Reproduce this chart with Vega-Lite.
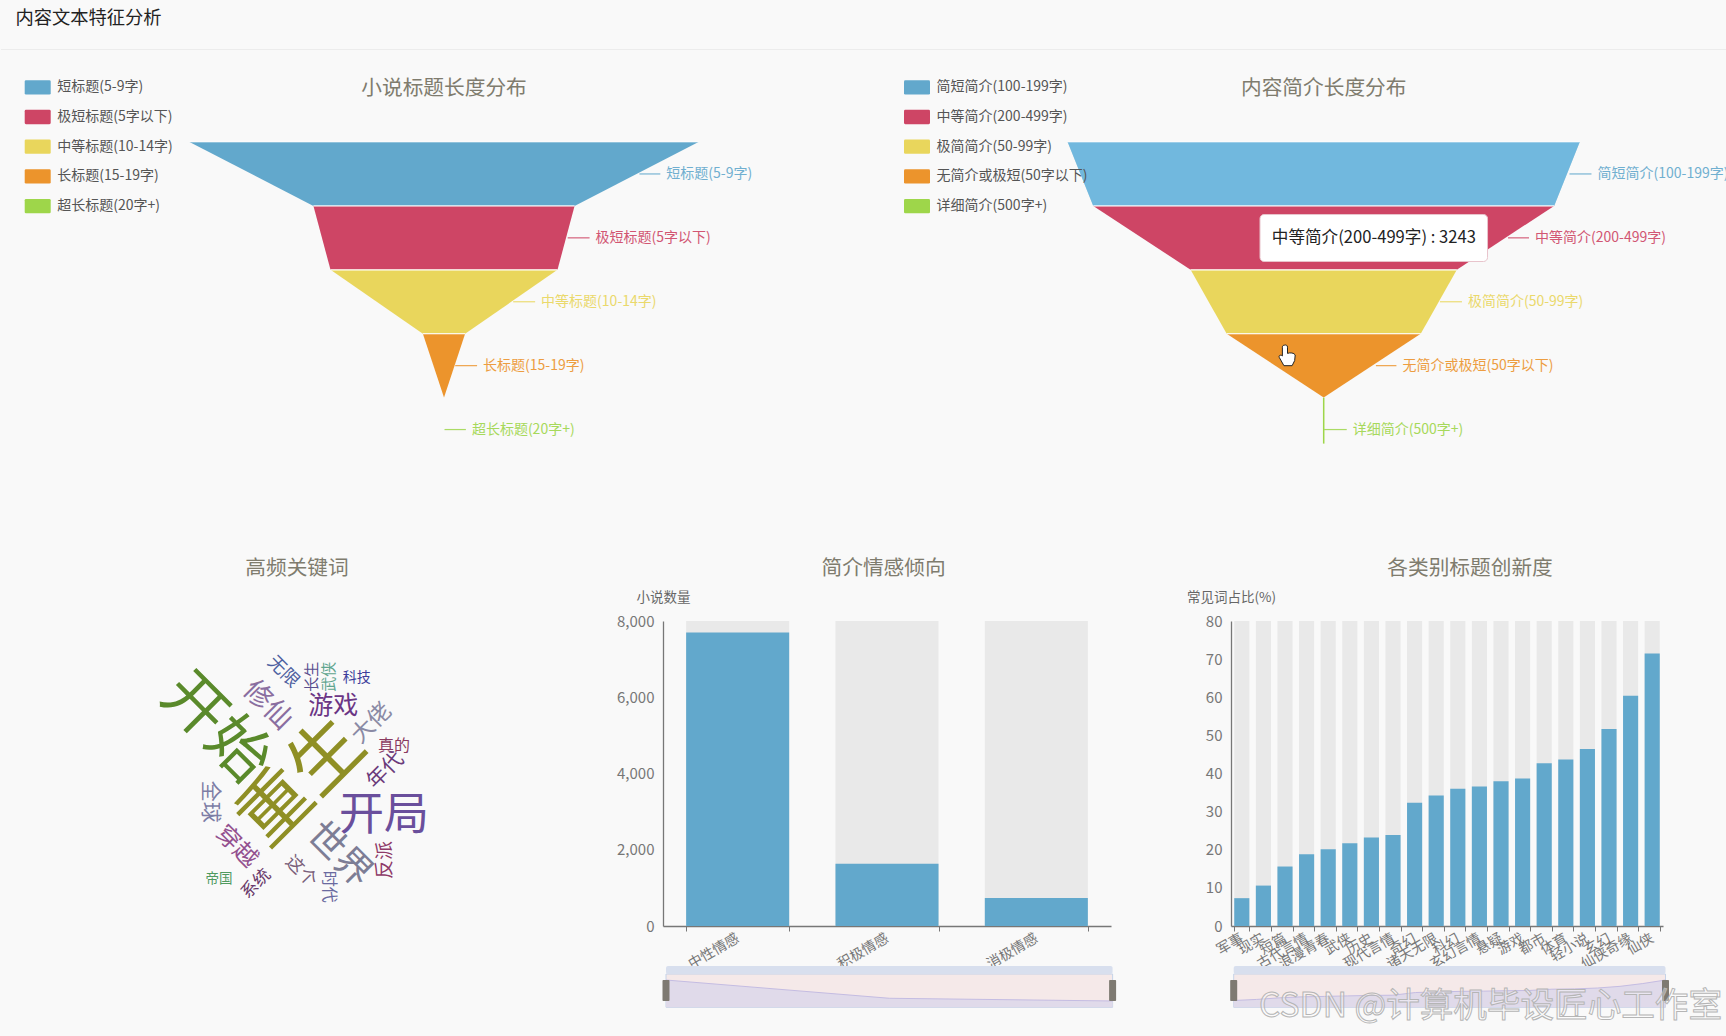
{
  "$schema": "https://vega.github.io/schema/vega-lite/v6.json",
  "background": "#f9f9f9",
  "padding": {"left": 0, "top": 0, "right": 0, "bottom": 29},
  "config": {
    "font": "Noto Sans CJK SC",
    "view": {"stroke": null},
    "title": {"fontSize": 20.7, "fontWeight": "normal", "color": "#7f7c6e", "anchor": "middle", "frame": "group"},
    "axis": {"labelColor": "#777777", "titleColor": "#666666", "grid": false, "domainColor": "#777777", "tickColor": "#777777", "titleFontWeight": "normal", "domainWidth": 1.3}
  },
  "datasets": {
    "titleFunnel": [
      {"name": "短标题(5-9字)", "level": 0, "left": -50, "right": 50},
      {"name": "短标题(5-9字)", "level": 1, "left": -25.65, "right": 25.65},
      {"name": "极短标题(5字以下)", "level": 1, "left": -25.65, "right": 25.65},
      {"name": "极短标题(5字以下)", "level": 2, "left": -22.3, "right": 22.3},
      {"name": "中等标题(10-14字)", "level": 2, "left": -22.3, "right": 22.3},
      {"name": "中等标题(10-14字)", "level": 3, "left": -4.15, "right": 4.15},
      {"name": "长标题(15-19字)", "level": 3, "left": -4.15, "right": 4.15},
      {"name": "长标题(15-19字)", "level": 4, "left": 0, "right": 0},
      {"name": "超长标题(20字+)", "level": 4, "left": 0, "right": 0},
      {"name": "超长标题(20字+)", "level": 5, "left": 0, "right": 0}
    ],
    "titleLabels": [
      {"name": "短标题(5-9字)", "mid": 0.5, "from": 38.4, "to": 42.5},
      {"name": "极短标题(5字以下)", "mid": 1.5, "from": 24.3, "to": 28.6},
      {"name": "中等标题(10-14字)", "mid": 2.5, "from": 13.6, "to": 17.9},
      {"name": "长标题(15-19字)", "mid": 3.5, "from": 2.2, "to": 6.5},
      {"name": "超长标题(20字+)", "mid": 4.5, "from": 0.1, "to": 4.3}
    ],
    "introFunnel": [
      {"name": "简短简介(100-199字)", "level": 0, "left": -50, "right": 50},
      {"name": "简短简介(100-199字)", "level": 1, "left": -45, "right": 45},
      {"name": "中等简介(200-499字)", "level": 1, "left": -45, "right": 45},
      {"name": "中等简介(200-499字)", "level": 2, "left": -26, "right": 26},
      {"name": "极简简介(50-99字)", "level": 2, "left": -26, "right": 26},
      {"name": "极简简介(50-99字)", "level": 3, "left": -18.95, "right": 18.95},
      {"name": "无简介或极短(50字以下)", "level": 3, "left": -18.95, "right": 18.95},
      {"name": "无简介或极短(50字以下)", "level": 4, "left": 0, "right": 0},
      {"name": "详细简介(500字+)", "level": 4, "left": -0.15, "right": 0.15},
      {"name": "详细简介(500字+)", "level": 4.72, "left": -0.15, "right": 0.15}
    ],
    "introLabels": [
      {"name": "简短简介(100-199字)", "mid": 0.5, "from": 48, "to": 52.3},
      {"name": "中等简介(200-499字)", "mid": 1.5, "from": 36, "to": 40.1},
      {"name": "极简简介(50-99字)", "mid": 2.5, "from": 22.7, "to": 27},
      {"name": "无简介或极短(50字以下)", "mid": 3.5, "from": 10.2, "to": 14.2},
      {"name": "详细简介(500字+)", "mid": 4.5, "from": 0.08, "to": 4.5}
    ],
    "words": [
      {"word": "重生", "cx": 303.3, "cy": 162.3, "freq": 72, "rot": -45},
      {"word": "开始", "cx": 216.7, "cy": 107.3, "freq": 62, "rot": 45},
      {"word": "开局", "cx": 385, "cy": 195, "freq": 45, "rot": 0},
      {"word": "世界", "cx": 340, "cy": 234, "freq": 37, "rot": 45},
      {"word": "游戏", "cx": 334.3, "cy": 84.7, "freq": 25, "rot": 0},
      {"word": "修仙", "cx": 268.3, "cy": 84.7, "freq": 28, "rot": 45},
      {"word": "无限", "cx": 284, "cy": 51.3, "freq": 18, "rot": 45},
      {"word": "长生", "cx": 313.3, "cy": 55.7, "freq": 15, "rot": -90},
      {"word": "武侠", "cx": 330, "cy": 55.7, "freq": 15, "rot": -90},
      {"word": "科技", "cx": 357.7, "cy": 56.7, "freq": 14, "rot": 0},
      {"word": "大佬", "cx": 372.7, "cy": 102.3, "freq": 23, "rot": -45},
      {"word": "真的", "cx": 395, "cy": 125, "freq": 16, "rot": 0},
      {"word": "年代", "cx": 386.7, "cy": 149.7, "freq": 21, "rot": -45},
      {"word": "全球", "cx": 210.7, "cy": 180.7, "freq": 21, "rot": 90},
      {"word": "穿越", "cx": 237.3, "cy": 225.7, "freq": 24, "rot": 45},
      {"word": "反派", "cx": 386, "cy": 239, "freq": 19, "rot": -90},
      {"word": "这个", "cx": 301.7, "cy": 250.7, "freq": 18, "rot": 45},
      {"word": "时代", "cx": 330, "cy": 265.7, "freq": 16, "rot": 90},
      {"word": "帝国", "cx": 220, "cy": 258, "freq": 13.5, "rot": 0},
      {"word": "系统", "cx": 257.3, "cy": 263, "freq": 17, "rot": -45}
    ],
    "sentiment": [
      {"rank": 0, "cat": "中性情感", "value": 7700, "full": 8000, "floor": -1370},
      {"rank": 1, "cat": "积极情感", "value": 1630, "full": 8000, "floor": -1370},
      {"rank": 2, "cat": "消极情感", "value": 735, "full": 8000, "floor": -1370}
    ],
    "novelty": [
      {"rank": 0, "cat": "军事", "value": 7.3, "full": 80, "floor": -14},
      {"rank": 1, "cat": "现实", "value": 10.6, "full": 80, "floor": -14},
      {"rank": 2, "cat": "短篇", "value": 15.6, "full": 80, "floor": -14},
      {"rank": 3, "cat": "古代言情", "value": 18.8, "full": 80, "floor": -14},
      {"rank": 4, "cat": "浪漫青春", "value": 20.1, "full": 80, "floor": -14},
      {"rank": 5, "cat": "武侠", "value": 21.7, "full": 80, "floor": -14},
      {"rank": 6, "cat": "历史", "value": 23.2, "full": 80, "floor": -14},
      {"rank": 7, "cat": "现代言情", "value": 23.9, "full": 80, "floor": -14},
      {"rank": 8, "cat": "奇幻", "value": 32.3, "full": 80, "floor": -14},
      {"rank": 9, "cat": "诸天无限", "value": 34.2, "full": 80, "floor": -14},
      {"rank": 10, "cat": "科幻", "value": 36, "full": 80, "floor": -14},
      {"rank": 11, "cat": "玄幻言情", "value": 36.6, "full": 80, "floor": -14},
      {"rank": 12, "cat": "悬疑", "value": 38, "full": 80, "floor": -14},
      {"rank": 13, "cat": "游戏", "value": 38.7, "full": 80, "floor": -14},
      {"rank": 14, "cat": "都市", "value": 42.7, "full": 80, "floor": -14},
      {"rank": 15, "cat": "体育", "value": 43.7, "full": 80, "floor": -14},
      {"rank": 16, "cat": "轻小说", "value": 46.4, "full": 80, "floor": -14},
      {"rank": 17, "cat": "玄幻", "value": 51.7, "full": 80, "floor": -14},
      {"rank": 18, "cat": "仙侠奇缘", "value": 60.4, "full": 80, "floor": -14},
      {"rank": 19, "cat": "仙侠", "value": 71.5, "full": 80, "floor": -14}
    ]
  },
  "bounds": "flush",
  "align": "each",
  "columns": 3,
  "spacing": {"row": 40, "column": 120},
  "resolve": {
    "scale": {"color": "independent", "size": "independent", "angle": "independent"},
    "legend": {"color": "independent"}
  },
  "concat": [
    {
      "width": 542,
      "height": 10,
      "data": {"values": [{"text": "内容文本特征分析", "x": 15, "y": 19, "x1": 0, "x2": 1800, "line": 49.5}]},
      "layer": [
        {
          "mark": {"type": "text", "align": "left", "baseline": "middle", "fontSize": 18.3, "color": "#222222"},
          "encoding": {
            "x": {"field": "x", "type": "quantitative", "axis": null, "scale": {"domain": [0, 1726], "range": [0, 1726]}},
            "y": {"field": "y", "type": "quantitative", "axis": null, "scale": {"domain": [0, 50], "range": [0, 50]}},
            "text": {"field": "text", "type": "nominal"}
          }
        },
        {
          "mark": {"type": "rule", "color": "#ececec", "strokeWidth": 1},
          "encoding": {
            "x": {"field": "x1", "type": "quantitative", "axis": null},
            "x2": {"field": "x2"},
            "y": {"field": "line", "type": "quantitative", "axis": null}
          }
        }
      ]
    },
    {"width": 448, "height": 10, "data": {"values": [{"a": 0}]}, "mark": {"type": "point", "opacity": 0}, "encoding": {"x": {"field": "a", "type": "quantitative", "axis": null, "scale": {"domain": [-1, 1]}}}},
    {"width": 432, "height": 10, "data": {"values": [{"a": 0}]}, "mark": {"type": "point", "opacity": 0}, "encoding": {"x": {"field": "a", "type": "quantitative", "axis": null, "scale": {"domain": [-1, 1]}}}},
    {
      "width": 542,
      "height": 531,
      "title": {"text": "小说标题长度分布", "dx": 172, "offset": -50},
      "layer": [
        {
          "data": {"name": "titleFunnel"},
          "mark": {"type": "area", "orient": "horizontal", "opacity": 1},
          "encoding": {
            "x": {"field": "left", "type": "quantitative", "axis": null, "scale": {"domain": [-50, 50], "range": [188.5, 697.5]}},
            "x2": {"field": "right"},
            "y": {"field": "level", "type": "quantitative", "axis": null, "scale": {"domain": [0, 5], "range": [92, 411.5]}},
            "color": {
              "field": "name", "type": "nominal",
              "scale": {"domain": ["短标题(5-9字)", "极短标题(5字以下)", "中等标题(10-14字)", "长标题(15-19字)", "超长标题(20字+)"], "range": ["#62a8cc", "#ce4565", "#e9d65c", "#ec942c", "#9ed64a"]},
              "legend": {"orient": "none", "legendX": 23.7, "legendY": 24.3, "title": null, "padding": 0, "rowPadding": 8.7, "labelFontSize": 14, "labelColor": "#555555", "labelOffset": 6.6, "symbolSize": 676, "symbolStrokeWidth": 0, "symbolOpacity": 1, "symbolType": "M-0.9,-0.55H0.9Q1,-0.55,1,-0.45V0.45Q1,0.55,0.9,0.55H-0.9Q-1,0.55,-1,0.45V-0.45Q-1,-0.55,-0.9,-0.55Z"}
            }
          }
        },
        {
          "data": {"name": "titleFunnel"},
          "mark": {"type": "rule", "color": "#ffffff", "opacity": 0.6, "strokeWidth": 1.2},
          "encoding": {
            "x": {"field": "left", "type": "quantitative", "axis": null},
            "x2": {"field": "right"},
            "y": {"field": "level", "type": "quantitative", "axis": null}
          }
        },
        {
          "data": {"name": "titleLabels"},
          "mark": {"type": "rule", "strokeWidth": 1.2, "opacity": 0.85},
          "encoding": {
            "x": {"field": "from", "type": "quantitative", "axis": null},
            "x2": {"field": "to"},
            "y": {"field": "mid", "type": "quantitative", "axis": null},
            "color": {"field": "name", "type": "nominal", "legend": null}
          }
        },
        {
          "data": {"name": "titleLabels"},
          "mark": {"type": "text", "align": "left", "baseline": "middle", "dx": 6, "fontSize": 14, "opacity": 0.9},
          "encoding": {
            "x": {"field": "to", "type": "quantitative", "axis": null},
            "y": {"field": "mid", "type": "quantitative", "axis": null},
            "text": {"field": "name", "type": "nominal"},
            "color": {"field": "name", "type": "nominal", "legend": null}
          }
        }
      ]
    },
    {
      "width": 448,
      "height": 531,
      "title": {"text": "内容简介长度分布", "dx": 436.7, "offset": -50},
      "layer": [
        {
          "data": {"name": "introFunnel"},
          "mark": {"type": "area", "orient": "horizontal", "opacity": 1},
          "encoding": {
            "x": {"field": "left", "type": "quantitative", "axis": null, "scale": {"domain": [-50, 50], "range": [404.7, 916.7]}},
            "x2": {"field": "right"},
            "y": {"field": "level", "type": "quantitative", "axis": null, "scale": {"domain": [0, 5], "range": [92, 411.5]}},
            "color": {
              "field": "name", "type": "nominal",
              "scale": {"domain": ["简短简介(100-199字)", "中等简介(200-499字)", "极简简介(50-99字)", "无简介或极短(50字以下)", "详细简介(500字+)"], "range": ["#62a8cc", "#ce4565", "#e9d65c", "#ec942c", "#9ed64a"]},
              "legend": {"orient": "none", "legendX": 241, "legendY": 24.3, "title": null, "padding": 0, "rowPadding": 8.7, "labelFontSize": 14, "labelColor": "#555555", "labelOffset": 6.6, "labelLimit": 300, "symbolSize": 676, "symbolStrokeWidth": 0, "symbolOpacity": 1, "symbolType": "M-0.9,-0.55H0.9Q1,-0.55,1,-0.45V0.45Q1,0.55,0.9,0.55H-0.9Q-1,0.55,-1,0.45V-0.45Q-1,-0.55,-0.9,-0.55Z"}
            }
          }
        },
        {
          "data": {"name": "introFunnel"},
          "transform": [{"filter": "datum.name === '简短简介(100-199字)'"}],
          "mark": {"type": "area", "orient": "horizontal", "color": "#7fc8f0", "opacity": 0.5},
          "encoding": {
            "x": {"field": "left", "type": "quantitative", "axis": null},
            "x2": {"field": "right"},
            "y": {"field": "level", "type": "quantitative", "axis": null}
          }
        },
        {
          "data": {"name": "introFunnel"},
          "transform": [{"filter": "datum.level < 4"}],
          "mark": {"type": "rule", "color": "#ffffff", "opacity": 0.6, "strokeWidth": 1.2},
          "encoding": {
            "x": {"field": "left", "type": "quantitative", "axis": null},
            "x2": {"field": "right"},
            "y": {"field": "level", "type": "quantitative", "axis": null}
          }
        },
        {
          "data": {"name": "introLabels"},
          "mark": {"type": "rule", "strokeWidth": 1.2, "opacity": 0.85},
          "encoding": {
            "x": {"field": "from", "type": "quantitative", "axis": null},
            "x2": {"field": "to"},
            "y": {"field": "mid", "type": "quantitative", "axis": null},
            "color": {"field": "name", "type": "nominal", "legend": null}
          }
        },
        {
          "data": {"name": "introLabels"},
          "mark": {"type": "text", "align": "left", "baseline": "middle", "dx": 6, "fontSize": 14, "opacity": 0.9},
          "encoding": {
            "x": {"field": "to", "type": "quantitative", "axis": null},
            "y": {"field": "mid", "type": "quantitative", "axis": null},
            "text": {"field": "name", "type": "nominal"},
            "color": {"field": "name", "type": "nominal", "legend": null}
          }
        },
        {
          "data": {"values": [{"x": -12.44, "x2": 32, "y": 1.135, "y2": 1.87}]},
          "mark": {"type": "rect", "fill": "#ffffff", "stroke": "#e8c4cc", "strokeWidth": 1, "cornerRadius": 4},
          "encoding": {
            "x": {"field": "x", "type": "quantitative", "axis": null},
            "x2": {"field": "x2"},
            "y": {"field": "y", "type": "quantitative", "axis": null},
            "y2": {"field": "y2"}
          }
        },
        {
          "data": {"values": [{"x": 9.8, "y": 1.5, "text": "中等简介(200-499字) : 3243"}]},
          "mark": {"type": "text", "align": "center", "baseline": "middle", "fontSize": 16.6, "color": "#222222"},
          "encoding": {
            "x": {"field": "x", "type": "quantitative", "axis": null},
            "y": {"field": "y", "type": "quantitative", "axis": null},
            "text": {"field": "text", "type": "nominal"}
          }
        },
        {
          "data": {"values": [{"x": -7.17, "y": 3.34}]},
          "mark": {"type": "point", "filled": true, "fill": "#ffffff", "stroke": "#222222", "strokeWidth": 1, "opacity": 1, "size": 420, "shape": "M-0.25,-1C-0.1,-1.05,0.05,-1,0.05,-0.8L0.05,-0.2C0.3,-0.3,0.7,-0.25,0.8,-0.05L0.75,0.5L0.5,1L-0.3,1L-0.75,0.2C-0.85,0,-0.6,-0.1,-0.45,0.05L-0.45,-0.8C-0.45,-0.95,-0.35,-1,-0.25,-1Z"},
          "encoding": {
            "x": {"field": "x", "type": "quantitative", "axis": null},
            "y": {"field": "y", "type": "quantitative", "axis": null}
          }
        }
      ]
    },
    {"width": 432, "height": 531, "data": {"values": [{"a": 0}]}, "mark": {"type": "point", "opacity": 0}, "encoding": {"x": {"field": "a", "type": "quantitative", "axis": null, "scale": {"domain": [-1, 1]}}}},
    {
      "width": 542,
      "height": 305,
      "title": {"text": "高频关键词", "dx": 25, "offset": 41.5},
      "data": {"name": "words"},
      "mark": {"type": "text", "align": "center", "baseline": "middle"},
      "encoding": {
        "x": {"field": "cx", "type": "quantitative", "axis": null, "scale": {"domain": [2, 544], "zero": false}},
        "y": {"field": "cy", "type": "quantitative", "axis": null, "scale": {"domain": [0, 305], "range": [0, 305]}},
        "text": {"field": "word", "type": "nominal"},
        "size": {"field": "freq", "type": "quantitative", "legend": null, "scale": {"domain": [0, 100], "range": [0, 100]}},
        "angle": {"field": "rot", "type": "quantitative", "legend": null, "scale": {"domain": [-90, 90], "range": [-90, 90]}},
        "color": {
          "field": "word", "type": "nominal", "legend": null,
          "scale": {
            "domain": ["重生", "开始", "开局", "世界", "游戏", "修仙", "无限", "长生", "武侠", "科技", "大佬", "真的", "年代", "全球", "穿越", "反派", "这个", "时代", "帝国", "系统"],
            "range": ["#8f8f25", "#5a8a2b", "#6a4f9c", "#7d7d95", "#6b3585", "#8a6ea0", "#4d5fa0", "#5a4f8f", "#5fa58f", "#3d3d9b", "#8a8aa5", "#8b3a5f", "#6b3a7a", "#7d7da5", "#93508f", "#8e3a68", "#7a5f7a", "#6a6aa0", "#4f9a5f", "#6a3a6a"]
          }
        }
      }
    },
    {
      "width": 448,
      "height": 305,
      "title": {"text": "简介情感倾向", "dx": -3.4, "offset": 10},
      "data": {"name": "sentiment"},
      "encoding": {
        "x": {
          "field": "cat", "type": "nominal", "sort": null, "title": null,
          "scale": {"paddingInner": 0.31, "paddingOuter": 0.155},
          "axis": {"labelAngle": -30, "labelAlign": "right", "labelBaseline": "middle", "labelFontSize": 14, "tickBand": "extent", "tickSize": 5, "labelPadding": 6, "labelOverlap": false}
        }
      },
      "layer": [
        {
          "mark": {"type": "bar", "color": "#e9e9e9"},
          "encoding": {
            "y": {"field": "full", "type": "quantitative", "scale": {"domain": [0, 8000]}, "axis": {"title": "小说数量", "titleAngle": 0, "titleX": 0, "titleY": -24, "titleAlign": "center", "titleBaseline": "middle", "titleFontSize": 13.5, "ticks": false, "labelFontSize": 15, "labelPadding": 9, "labelOverlap": false, "values": [0, 2000, 4000, 6000, 8000], "format": ",d"}}
          }
        },
        {
          "mark": {"type": "bar", "color": "#62a8cc"},
          "encoding": {"y": {"field": "value", "type": "quantitative"}}
        }
      ]
    },
    {
      "width": 432,
      "height": 305,
      "title": {"text": "各类别标题创新度", "dx": 23, "offset": 10},
      "data": {"name": "novelty"},
      "encoding": {
        "x": {
          "field": "cat", "type": "nominal", "sort": null, "title": null,
          "scale": {"paddingInner": 0.3, "paddingOuter": 0.15},
          "axis": {"labelAngle": -30, "labelAlign": "right", "labelBaseline": "middle", "labelFontSize": 14, "tickBand": "extent", "tickSize": 5, "labelPadding": 6, "labelOverlap": false}
        }
      },
      "layer": [
        {
          "mark": {"type": "bar", "color": "#e9e9e9"},
          "encoding": {
            "y": {"field": "full", "type": "quantitative", "scale": {"domain": [0, 80]}, "axis": {"title": "常见词占比(%)", "titleAngle": 0, "titleX": 0, "titleY": -24, "titleAlign": "center", "titleBaseline": "middle", "titleFontSize": 13.5, "ticks": false, "labelFontSize": 15, "labelPadding": 9, "labelOverlap": false, "labelSeparation": 0, "tickCount": 9, "values": [0, 10, 20, 30, 40, 50, 60, 70, 80]}}
          }
        },
        {
          "mark": {"type": "bar", "color": "#62a8cc"},
          "encoding": {"y": {"field": "value", "type": "quantitative", "axis": {"title": "常见词占比(%)", "titleAngle": 0, "titleX": 0, "titleY": -24, "titleAlign": "center", "titleBaseline": "middle", "titleFontSize": 13.5, "ticks": false, "labelFontSize": 15, "labelPadding": 9, "labelOverlap": false, "labelSeparation": 0, "tickCount": 9, "values": [0, 10, 20, 30, 40, 50, 60, 70, 80]}}}
        }
      ]
    },
    {"width": 542, "height": 41.3, "data": {"values": [{"a": 0}]}, "mark": {"type": "point", "opacity": 0}, "encoding": {"x": {"field": "a", "type": "quantitative", "axis": null, "scale": {"domain": [-1, 1]}}}},
    {
      "width": 448,
      "height": 41.3,
      "layer": [
        {
          "data": {"values": [{"a": 0, "b": 2, "lo": -1370, "hi": 9700}]},
          "mark": {"type": "rect", "fill": "#f5e9e9", "stroke": "#c5d3e8", "strokeWidth": 1},
          "encoding": {
            "x": {"field": "a", "type": "quantitative", "axis": null, "scale": {"domain": [0, 2], "range": [3, 449.6], "nice": false, "zero": false}},
            "x2": {"field": "b"},
            "y": {"field": "lo", "type": "quantitative", "axis": null, "scale": {"domain": [-1370, 12367], "nice": false, "zero": false}},
            "y2": {"field": "hi"}
          }
        },
        {
          "data": {"values": [{"a": 0, "b": 2, "hi": 9700, "top": 12367}]},
          "mark": {"type": "rect", "fill": "#d8dfee", "cornerRadius": 2},
          "encoding": {
            "x": {"field": "a", "type": "quantitative", "axis": null},
            "x2": {"field": "b"},
            "y": {"field": "hi", "type": "quantitative", "axis": null},
            "y2": {"field": "top"}
          }
        },
        {
          "data": {"name": "sentiment"},
          "mark": {"type": "area", "color": "#e0daea"},
          "encoding": {
            "x": {"field": "rank", "type": "quantitative", "axis": null},
            "y": {"field": "value", "type": "quantitative", "axis": null},
            "y2": {"field": "floor"}
          }
        },
        {
          "data": {"name": "sentiment"},
          "mark": {"type": "line", "color": "#c4bce2", "strokeWidth": 1},
          "encoding": {
            "x": {"field": "rank", "type": "quantitative", "axis": null},
            "y": {"field": "value", "type": "quantitative", "axis": null}
          }
        },
        {
          "data": {"values": [{"rank": 0, "mid": 4234}, {"rank": 2, "mid": 4234}]},
          "mark": {"type": "tick", "orient": "vertical", "size": 21, "thickness": 7, "color": "#7e7a72", "opacity": 1, "cornerRadius": 1},
          "encoding": {
            "x": {"field": "rank", "type": "quantitative", "axis": null},
            "y": {"field": "mid", "type": "quantitative", "axis": null}
          }
        }
      ]
    },
    {
      "width": 432,
      "height": 41.3,
      "layer": [
        {
          "data": {"values": [{"a": 0, "b": 19, "lo": -14, "hi": 90.3}]},
          "mark": {"type": "rect", "fill": "#f5e9e9", "stroke": "#c5d3e8", "strokeWidth": 1},
          "encoding": {
            "x": {"field": "a", "type": "quantitative", "axis": null, "scale": {"domain": [0, 19], "range": [2.7, 434.5], "nice": false, "zero": false}},
            "x2": {"field": "b"},
            "y": {"field": "lo", "type": "quantitative", "axis": null, "scale": {"domain": [-14, 115.4], "nice": false, "zero": false}},
            "y2": {"field": "hi"}
          }
        },
        {
          "data": {"values": [{"a": 0, "b": 19, "hi": 90.3, "top": 115.4}]},
          "mark": {"type": "rect", "fill": "#d8dfee", "cornerRadius": 2},
          "encoding": {
            "x": {"field": "a", "type": "quantitative", "axis": null},
            "x2": {"field": "b"},
            "y": {"field": "hi", "type": "quantitative", "axis": null},
            "y2": {"field": "top"}
          }
        },
        {
          "data": {"name": "novelty"},
          "mark": {"type": "area", "color": "#e0daea"},
          "encoding": {
            "x": {"field": "rank", "type": "quantitative", "axis": null},
            "y": {"field": "value", "type": "quantitative", "axis": null},
            "y2": {"field": "floor"}
          }
        },
        {
          "data": {"name": "novelty"},
          "mark": {"type": "line", "color": "#c4bce2", "strokeWidth": 1},
          "encoding": {
            "x": {"field": "rank", "type": "quantitative", "axis": null},
            "y": {"field": "value", "type": "quantitative", "axis": null}
          }
        },
        {
          "data": {"values": [{"rank": 0, "mid": 38.9}, {"rank": 19, "mid": 38.9}]},
          "mark": {"type": "tick", "orient": "vertical", "size": 21, "thickness": 7, "color": "#7e7a72", "opacity": 1, "cornerRadius": 1},
          "encoding": {
            "x": {"field": "rank", "type": "quantitative", "axis": null},
            "y": {"field": "mid", "type": "quantitative", "axis": null}
          }
        },
        {
          "data": {"values": [{"rank": 19, "mid": -14, "text": "CSDN @计算机毕设匠心工作室"}]},
          "mark": {"type": "text", "align": "right", "baseline": "middle", "dx": 56.5, "fontSize": 33.6, "fill": "#ffffff", "fillOpacity": 0.35, "stroke": "#b5b5b5", "strokeWidth": 1},
          "encoding": {
            "x": {"field": "rank", "type": "quantitative", "axis": null},
            "y": {"field": "mid", "type": "quantitative", "axis": null},
            "text": {"field": "text", "type": "nominal"}
          }
        }
      ]
    }
  ]
}
